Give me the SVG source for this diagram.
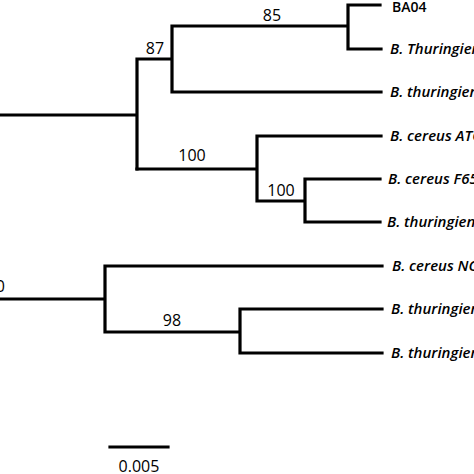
<svg xmlns="http://www.w3.org/2000/svg" width="474" height="474" viewBox="0 0 474 474">
<style>
.b{fill:none;stroke:#000;stroke-width:3.2;stroke-linecap:square;stroke-linejoin:miter}
.bs{font-family:"Open Sans","Liberation Sans",sans-serif;font-size:16px;fill:#000;text-anchor:middle}
.lf{font-family:"Open Sans","Liberation Sans",sans-serif;font-size:15px;font-style:italic;font-weight:600;fill:#000}
.up{font-family:"Open Sans","Liberation Sans",sans-serif;font-size:14px;font-weight:600;fill:#000}
</style>
<rect width="474" height="474" fill="#fff"/>
<g id="connectors">
<path class="b" d="M0,115 H137 M137,59 V169 M137,59 H172 M172,26 V92 M172,26 H348 M348,5 V49 M348,5 H380 M348,49 H381 M172,92 H381"/>
<path class="b" d="M137,169 H257 M257,136 V201 M257,136 H381 M257,201 H305 M305,179 V222 M305,179 H380 M305,222 H380"/>
<path class="b" d="M0,299 H105 M105,266 V332 M105,266 H382 M105,332 H240 M240,309 V353 M240,309 H382 M240,353 H382"/>
</g>
<g id="bootstrap">
<text class="bs" x="272" y="21">85</text>
<text class="bs" x="155" y="54">87</text>
<text class="bs" x="192" y="161">100</text>
<text class="bs" x="281" y="196">100</text>
<text class="bs" x="172" y="326">98</text>
<text class="bs" x="5" y="292" style="text-anchor:end">100</text>
</g>
<g id="leaf-BA04"><text class="up" x="392" y="12">BA04</text></g>
<g id="leaf-2"><text class="lf" x="390" y="54">B. Thuringien</text></g>
<g id="leaf-3"><text class="lf" x="390" y="97">B. thuringien</text></g>
<g id="leaf-4"><text class="lf" x="390" y="141">B. cereus ATC</text></g>
<g id="leaf-5"><text class="lf" x="388" y="184">B. cereus F65</text></g>
<g id="leaf-6"><text class="lf" x="387" y="227">B. thuringiens</text></g>
<g id="leaf-7"><text class="lf" x="392" y="271">B. cereus NC</text></g>
<g id="leaf-8"><text class="lf" x="391" y="314">B. thuringien</text></g>
<g id="leaf-9"><text class="lf" x="391" y="358">B. thuringien</text></g>
<g id="scale">
<path class="b" d="M110,447 H168"/>
<text class="bs" x="139" y="472">0.005</text>
</g>
</svg>
